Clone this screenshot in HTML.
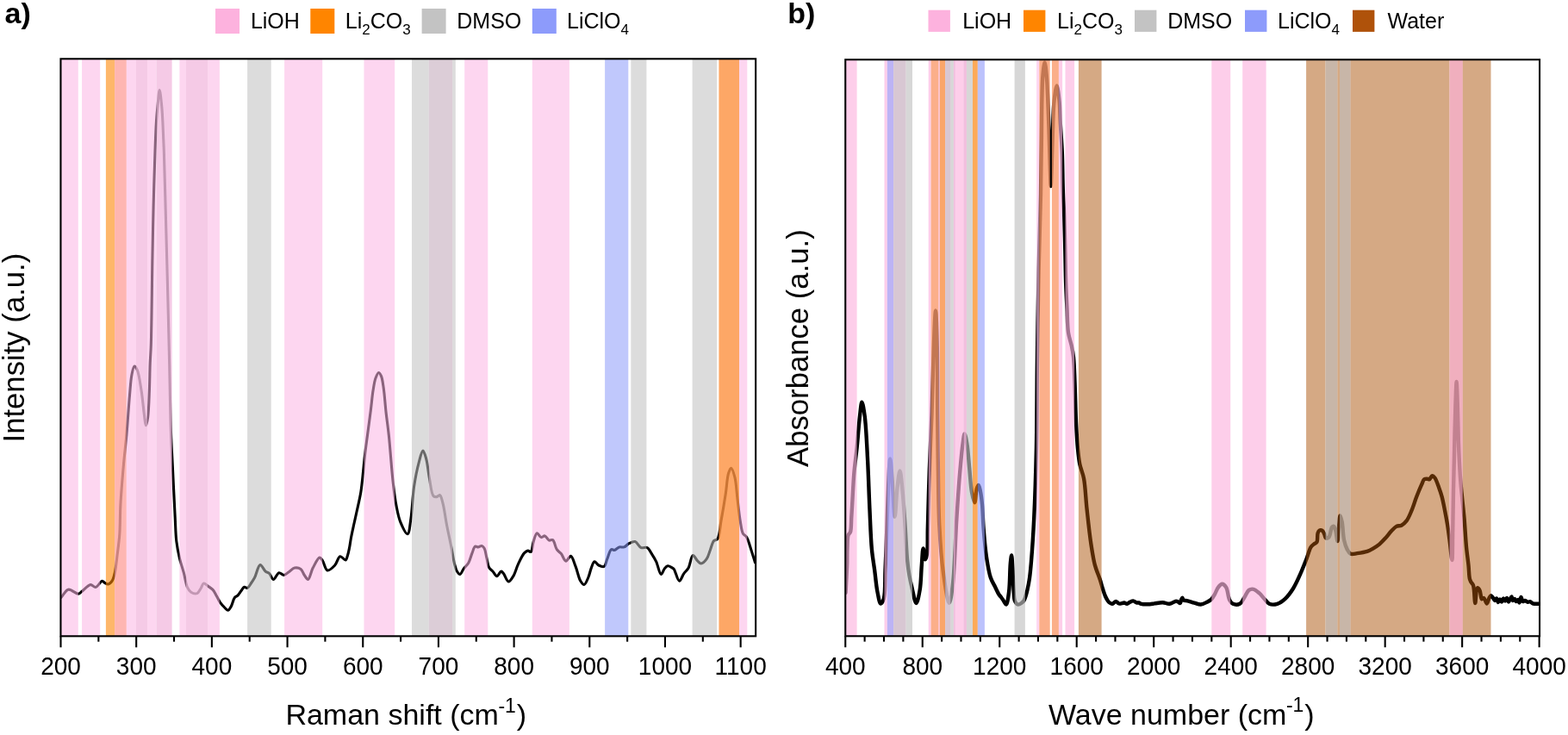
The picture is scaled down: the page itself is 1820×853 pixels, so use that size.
<!DOCTYPE html>
<html><head><meta charset="utf-8"><title>Raman and FTIR spectra</title>
<style>
html,body{margin:0;padding:0;background:#fff;}
body{width:1820px;height:853px;overflow:hidden;}
svg{display:block;}
text{font-family:'Liberation Sans', Arial, Helvetica, sans-serif;fill:#000;}
</style></head><body>
<svg width="1820" height="853" viewBox="0 0 1820 853">
<defs>
<clipPath id="cl"><rect x="70.45" y="68.3" width="806.7" height="670"/></clipPath>
<clipPath id="cr"><rect x="981.25" y="69.2" width="805.8" height="669.05"/></clipPath>
</defs>
<rect width="1820" height="853" fill="#fff"/>

<!-- panel a -->
<text x="5.6" y="26.6" font-size="34" font-weight="bold">a)</text>
<g font-size="25">
<rect x="250" y="10" width="28" height="29" fill="#fdb2de"/>
<text x="290.9" y="33">LiOH</text>
<rect x="360.3" y="10" width="28" height="29" fill="#ff8500"/>
<text x="400.8" y="33">Li<tspan font-size="17" dy="7">2</tspan><tspan dy="-7">CO</tspan><tspan font-size="17" dy="7">3</tspan></text>
<rect x="489.6" y="10" width="28" height="29" fill="#c3c3c3"/>
<text x="530.3" y="33">DMSO</text>
<rect x="617.8" y="10" width="28" height="29" fill="#8d9bfb"/>
<text x="658" y="33">LiClO<tspan font-size="17" dy="7">4</tspan></text>
</g>
<g clip-path="url(#cl)">
<path d="M71.1,693.3 C73.83,690.27 76.02,684.93 79.3,684.2 C82.66,683.46 88.25,689.53 91.1,689.2 C92.9,688.99 93.55,687.44 95.2,686.2 C97.79,684.26 102.14,678.89 105.1,678.6 C107.25,678.39 109.02,681.8 111,681.5 C113.5,681.12 116.62,674.45 118.6,674.3 C119.75,674.21 120.42,675.71 121.5,676.3 C122.72,676.96 124.25,678.22 125.6,678 C127.2,677.74 129.08,675.76 130.3,673.9 C131.84,671.55 132.44,668.3 133.3,664.5 C134.57,658.91 135.3,650.62 136.2,643.4 C137.14,635.81 138.19,628.56 138.8,620 C139.54,609.65 139.23,597.95 139.9,585.6 C140.68,571.17 142.22,553.21 143.5,538.7 C144.61,526.12 145.9,515.95 147,503.5 C148.25,489.45 149.37,471.14 150.5,458.6 C151.32,449.53 151.66,441.36 152.9,435.2 C153.73,431.06 154.67,425.24 156,425 C156.95,424.83 158.31,427.13 159.3,429.3 C161.37,433.87 162.68,444.51 164,452.8 C165.47,461.98 166.47,474.44 167.5,482 C168.16,486.82 168.57,493.77 169.3,493.8 C169.96,493.83 170.99,488.49 171.6,484.4 C172.71,477 172.97,463.27 173.4,452.8 C173.83,442.47 173.84,431.4 174.2,422 C174.5,414.05 174.97,409.99 175.3,400 C176,378.72 176.38,329.1 176.9,300 C177.31,277.46 177.6,260.4 178.1,240 C178.62,218.77 179.35,193.03 180,175 C180.46,162.15 180.8,151.49 181.4,142 C181.86,134.79 182.36,129.29 183,123 C183.63,116.79 184.42,104.51 185.2,104.5 C185.98,104.49 187.08,116.78 187.7,123 C188.32,129.28 188.52,134.8 188.9,142 C189.4,151.49 189.85,162.15 190.3,175 C190.93,193.03 191.49,217.21 192.1,240 C192.78,265.28 193.49,291.85 194.2,320 C194.99,351.48 195.87,388.52 196.6,420 C197.25,448.15 197.6,476.88 198.4,500 C199.01,517.71 199.83,530.78 200.6,546.9 C201.42,564.05 202.41,585.09 203.2,600 C203.77,610.85 203.78,619.59 204.8,628.1 C205.66,635.28 206.92,641.52 208.4,647.8 C209.79,653.69 211.78,659.05 213.3,664.7 C214.81,670.32 215.61,677.61 217.5,681.6 C218.7,684.13 219.84,686.03 221.7,687.2 C223.59,688.39 226.91,689.33 228.8,688.6 C230.66,687.89 231.71,684.93 233,683 C234.28,681.09 235.02,677.46 236.5,677.1 C237.86,676.77 239.74,679.05 241.4,680.2 C243.23,681.46 245.39,682.64 247,684.4 C248.74,686.31 249.91,688.98 251.3,691.4 C252.75,693.91 253.84,696.83 255.5,699.2 C257.12,701.52 259.39,703.87 261.1,705.5 C262.35,706.69 263.49,708.41 264.6,708.3 C265.83,708.18 267.01,705.93 268.1,704.1 C269.68,701.46 270.67,695.65 272.4,693.5 C273.46,692.19 274.73,692.23 275.9,691.1 C277.53,689.52 279.35,686.18 280.8,684.4 C281.83,683.14 282.5,681.61 283.6,681.3 C284.62,681.01 285.96,682.67 287.1,682.3 C288.79,681.75 290.54,678.08 292,676 C293.34,674.09 294.33,672.7 295.6,670.3 C297.56,666.6 299.57,655.94 302,655.6 C303.92,655.33 306.24,661.65 308.3,663.3 C309.72,664.43 311.18,664.26 312.5,665.4 C314.29,666.95 315.6,672.43 317.4,672.5 C319.34,672.58 321.53,665.18 323.8,664.7 C325.58,664.32 327.56,667.59 329.4,667.5 C331.29,667.41 333.05,665.29 335,664 C337.22,662.53 339.54,659.62 342,659.1 C344.26,658.62 347.24,659.19 349.1,660.5 C351.07,661.89 351.81,665.41 353.3,667.5 C354.63,669.37 356.15,672.7 357.5,672.5 C359.51,672.2 360.95,663.35 363.2,659.1 C365.43,654.89 368.7,647.34 370.9,647.1 C372.19,646.96 373.23,648.97 374.4,650.6 C376.26,653.2 377.46,661.21 380,661.9 C382.29,662.52 386.11,658.81 388.5,656.3 C391.13,653.54 392.38,646.24 394.8,645.7 C396.7,645.28 399.63,650.42 401.1,650 C402.4,649.63 402.81,646.57 403.5,644.5 C404.33,642.01 404.88,639.09 405.5,636 C406.23,632.35 406.68,628.31 407.5,624 C408.46,618.93 409.87,612.72 411,607.5 C412.03,602.77 412.9,599.08 414,594 C415.43,587.41 417.54,579.03 418.8,571.3 C420.09,563.37 420.78,554.61 421.6,547 C422.32,540.28 422.74,534.63 423.5,528 C424.34,520.69 425.44,513.09 426.5,505 C427.69,495.96 429.16,485.39 430.3,476.3 C431.33,468.08 431.99,459.6 433.1,452.8 C433.96,447.51 434.64,442.47 436,438.8 C436.97,436.2 438.31,432.58 439.5,432.5 C440.49,432.43 441.67,434.62 442.5,436.5 C443.93,439.73 444.48,445.4 445.3,451 C446.41,458.59 447,469.01 448,478 C449,487.01 450.17,494.38 451.3,505 C452.91,520.21 454.56,545.51 456.3,560.6 C457.5,571.01 458.44,578.92 460,586.9 C461.33,593.7 462.37,599.96 464.7,605.6 C466.85,610.8 471.08,620.03 473.1,619.7 C475.23,619.35 475.8,608.96 476.9,601.9 C478.48,591.74 478.86,575.96 480.6,564.4 C482.12,554.32 484.23,543.86 486.3,536.3 C487.75,531.02 489.39,523.14 490.9,523.1 C492.18,523.07 493.61,528.62 494.7,532.5 C496.33,538.32 496.97,547.69 498.4,555 C499.78,562.04 500.58,572.99 503.1,575.6 C504.19,576.73 505.67,576.73 506.9,576.6 C508.17,576.46 509.56,574.29 510.6,574.7 C512.2,575.33 512.94,580.09 514,584 C515.69,590.26 516.86,600.49 518.5,609 C520.22,617.91 522.48,628.1 524.1,636.3 C525.43,643 526.32,649.71 527.6,654.6 C528.48,657.97 529.11,660.91 530.4,663 C531.37,664.56 532.75,666.61 533.9,666.5 C535.32,666.36 536.54,662.32 538.1,660.2 C539.81,657.89 542.22,655.96 543.8,653.2 C545.63,650.01 546.6,645.28 548,641.9 C549.17,639.07 549.95,634.99 551.5,634.2 C552.51,633.68 553.79,634.98 555,634.9 C556.35,634.82 558,633.23 559.2,633.5 C560.35,633.76 561.29,634.89 562.1,636.3 C563.47,638.68 563.97,643.76 564.9,647.5 C565.84,651.26 566.17,656.09 567.7,658.8 C568.79,660.74 570.47,661.47 571.9,663 C573.5,664.71 575.15,668.59 576.8,668.6 C578.45,668.61 580.35,663.04 581.8,663 C582.85,662.97 583.59,664.52 584.6,665.8 C586.26,667.92 588.21,674.83 590.2,675 C591.97,675.15 594.12,671.32 595.8,668.6 C598.04,664.97 599.36,659.09 601.5,654.6 C603.6,650.2 606.14,644.47 608.5,641.9 C609.89,640.39 611.33,639.24 612.7,639.1 C613.89,638.98 615.26,640.98 616.2,640.5 C617.85,639.66 617.81,632.86 619,629.2 C620.18,625.59 621.5,619.06 623.3,618.7 C624.71,618.42 626.51,623.26 628.2,623.6 C629.56,623.88 631.04,621.6 632.4,621.9 C634.1,622.27 635.55,626.46 637.3,627.1 C638.66,627.6 640.35,625.87 641.6,626.6 C643.68,627.81 644.38,634.88 646.3,637.7 C647.76,639.85 649.69,640.64 651.3,642.6 C653.24,644.96 654.91,650.91 656.9,651.1 C658.67,651.27 660.82,645.11 662.5,645.4 C664.67,645.77 666.34,653 668.1,657.4 C670.14,662.5 671.57,670.7 673.8,674.3 C675.09,676.38 676.66,678.68 678,678.5 C679.73,678.27 681.54,673.11 682.9,670 C684.39,666.6 685.07,662.05 686.4,658.8 C687.49,656.14 688.48,652.1 690,651.8 C691.37,651.53 693.03,655.07 694.9,656 C696.77,656.93 699.61,658.23 701.2,657.4 C703.1,656.41 703.42,651.92 704.7,648.9 C706.18,645.42 707.61,638.75 709.6,637.7 C710.69,637.13 711.92,638.64 713.2,638.4 C714.92,638.08 716.85,635.46 718.8,634.9 C720.6,634.38 722.62,635.49 724.4,634.9 C726.41,634.24 728.01,631.76 730.1,630.7 C732.23,629.62 734.92,627.96 737.1,628.5 C739.64,629.13 741.51,634.52 744.1,635.6 C746.28,636.51 749.18,634.57 751.2,635.6 C753.54,636.79 755.06,640.62 756.8,643.3 C758.57,646.02 760.14,648.51 761.7,651.8 C763.68,655.97 765.37,666.32 767.3,666.5 C768.7,666.63 770.08,661.22 771.6,659.5 C772.72,658.23 773.78,656.88 775.1,656.7 C776.55,656.5 778.72,658.07 780,658.8 C780.91,659.32 781.42,659.45 782.2,660.4 C784.04,662.64 786.36,673.96 788.5,674.1 C790.24,674.21 791.95,668.17 793.8,665.6 C795.47,663.28 797.46,662.01 799,659.3 C801.14,655.54 802.15,644.88 804.3,644.5 C805.86,644.23 807.83,649.23 809.6,650.9 C811,652.22 812.27,654.04 813.8,654 C815.73,653.95 818.5,651.04 820.2,648.7 C822.19,645.97 823,641.71 824.4,638.2 C825.8,634.68 826.72,629.65 828.6,627.6 C829.8,626.29 831.64,627.02 832.8,625.5 C835.29,622.24 835.58,612.15 837,604.4 C838.73,594.94 840.81,582.54 842.3,572.8 C843.57,564.45 843.9,554.73 845.5,549.5 C846.37,546.64 847.53,543.16 848.6,543.2 C849.97,543.25 851.76,549.42 852.9,553.8 C854.6,560.34 854.95,570.67 856,579.1 C857.05,587.53 857.95,597.11 859.2,604.4 C860.16,610.01 860.61,615.93 862.4,619.2 C863.52,621.25 865.32,621.38 866.6,623.4 C868.68,626.69 870.24,633.25 871.9,638.2 C873.54,643.12 874.97,648.07 876.5,653" fill="none" stroke="#000" stroke-width="3.1" stroke-linejoin="round" stroke-linecap="round"/>
<rect x="69.5" y="68.3" width="21.3" height="670" fill="rgb(251,180,228)" fill-opacity="0.55"/>
<rect x="95.05" y="68.3" width="21.15" height="670" fill="rgb(251,180,228)" fill-opacity="0.55"/>
<rect x="122.9" y="68.3" width="10.2" height="670" fill="rgb(253,135,7)" fill-opacity="0.6"/>
<rect x="133.1" y="68.3" width="13.7" height="670" fill="rgb(254,164,159)" fill-opacity="0.8"/>
<rect x="146.8" y="68.3" width="11.1" height="670" fill="rgb(251,180,228)" fill-opacity="0.55"/>
<rect x="157.9" y="68.3" width="13.3" height="670" fill="rgb(242,189,224)" fill-opacity="0.8"/>
<rect x="171.2" y="68.3" width="10.3" height="670" fill="rgb(251,180,228)" fill-opacity="0.55"/>
<rect x="181.5" y="68.3" width="18.1" height="670" fill="rgb(242,189,224)" fill-opacity="0.8"/>
<rect x="208.4" y="68.3" width="7.5" height="670" fill="rgb(251,180,228)" fill-opacity="0.55"/>
<rect x="215.9" y="68.3" width="25.4" height="670" fill="rgb(242,189,224)" fill-opacity="0.8"/>
<rect x="241.3" y="68.3" width="13.6" height="670" fill="rgb(251,180,228)" fill-opacity="0.55"/>
<rect x="287.1" y="68.3" width="27.6" height="670" fill="rgb(191,191,191)" fill-opacity="0.55"/>
<rect x="330.1" y="68.3" width="44.1" height="670" fill="rgb(251,180,228)" fill-opacity="0.55"/>
<rect x="422.5" y="68.3" width="35.7" height="670" fill="rgb(251,180,228)" fill-opacity="0.55"/>
<rect x="478" y="68.3" width="19.7" height="670" fill="rgb(191,191,191)" fill-opacity="0.55"/>
<rect x="497.7" y="68.3" width="27.5" height="670" fill="rgb(211,192,205)" fill-opacity="0.8"/>
<rect x="525.2" y="68.3" width="3.6" height="670" fill="rgb(191,191,191)" fill-opacity="0.55"/>
<rect x="539.2" y="68.3" width="27.1" height="670" fill="rgb(251,180,228)" fill-opacity="0.55"/>
<rect x="617.8" y="68.3" width="43.1" height="670" fill="rgb(251,180,228)" fill-opacity="0.55"/>
<rect x="702.1" y="68.3" width="27.2" height="670" fill="rgb(140,155,250)" fill-opacity="0.55"/>
<rect x="732.3" y="68.3" width="18.1" height="670" fill="rgb(191,191,191)" fill-opacity="0.55"/>
<rect x="803.6" y="68.3" width="28.6" height="670" fill="rgb(191,191,191)" fill-opacity="0.55"/>
<rect x="834.4" y="68.3" width="23.6" height="670" fill="rgb(252,145,64)" fill-opacity="0.8"/>
<rect x="858" y="68.3" width="9.3" height="670" fill="rgb(251,180,228)" fill-opacity="0.55"/>
</g>
<rect x="70.45" y="68.3" width="806.7" height="670" fill="none" stroke="#000" stroke-width="2.1"/>
<g stroke="#000" stroke-width="2.1">
<line x1="70.5" y1="738.3" x2="70.5" y2="751.3"/>
<line x1="158.19" y1="738.3" x2="158.19" y2="751.3"/>
<line x1="245.87" y1="738.3" x2="245.87" y2="751.3"/>
<line x1="333.56" y1="738.3" x2="333.56" y2="751.3"/>
<line x1="421.24" y1="738.3" x2="421.24" y2="751.3"/>
<line x1="508.93" y1="738.3" x2="508.93" y2="751.3"/>
<line x1="596.61" y1="738.3" x2="596.61" y2="751.3"/>
<line x1="684.29" y1="738.3" x2="684.29" y2="751.3"/>
<line x1="771.98" y1="738.3" x2="771.98" y2="751.3"/>
<line x1="859.66" y1="738.3" x2="859.66" y2="751.3"/>
<line x1="114.34" y1="738.3" x2="114.34" y2="744.7"/>
<line x1="202.03" y1="738.3" x2="202.03" y2="744.7"/>
<line x1="289.71" y1="738.3" x2="289.71" y2="744.7"/>
<line x1="377.4" y1="738.3" x2="377.4" y2="744.7"/>
<line x1="465.08" y1="738.3" x2="465.08" y2="744.7"/>
<line x1="552.77" y1="738.3" x2="552.77" y2="744.7"/>
<line x1="640.45" y1="738.3" x2="640.45" y2="744.7"/>
<line x1="728.14" y1="738.3" x2="728.14" y2="744.7"/>
<line x1="815.82" y1="738.3" x2="815.82" y2="744.7"/>
</g>
<g font-size="28" text-anchor="middle">
<text transform="translate(70.5,782.9) scale(1,1.05)">200</text>
<text transform="translate(158.19,782.9) scale(1,1.05)">300</text>
<text transform="translate(245.87,782.9) scale(1,1.05)">400</text>
<text transform="translate(333.56,782.9) scale(1,1.05)">500</text>
<text transform="translate(421.24,782.9) scale(1,1.05)">600</text>
<text transform="translate(508.93,782.9) scale(1,1.05)">700</text>
<text transform="translate(596.61,782.9) scale(1,1.05)">800</text>
<text transform="translate(684.29,782.9) scale(1,1.05)">900</text>
<text transform="translate(771.98,782.9) scale(1,1.05)">1000</text>
<text transform="translate(859.66,782.9) scale(1,1.05)">1100</text>
</g>
<text x="471.3" y="841.4" font-size="34" text-anchor="middle">Raman shift (cm<tspan font-size="23" dy="-14.5" dx="-0.5">-1</tspan><tspan dy="14.5" dx="1">)</tspan></text>
<text transform="translate(28.0,403.6) rotate(-90)" font-size="34.7" text-anchor="middle">Intensity (a.u.)</text>

<!-- panel b -->
<text x="914.3" y="26.6" font-size="34" font-weight="bold">b)</text>
<g font-size="25">
<rect x="1077.5" y="11.7" width="25.4" height="25.2" fill="#fdb2de"/>
<text x="1117.2" y="33">LiOH</text>
<rect x="1188" y="11.7" width="25.4" height="25.2" fill="#ff8500"/>
<text x="1227" y="33">Li<tspan font-size="17" dy="7">2</tspan><tspan dy="-7">CO</tspan><tspan font-size="17" dy="7">3</tspan></text>
<rect x="1317" y="11.7" width="25.4" height="25.2" fill="#c3c3c3"/>
<text x="1355.2" y="33">DMSO</text>
<rect x="1445" y="11.7" width="25.4" height="25.2" fill="#8d9bfb"/>
<text x="1483" y="33">LiClO<tspan font-size="17" dy="7">4</tspan></text>
<rect x="1570" y="11.7" width="25.4" height="25.2" fill="#af520a"/>
<text x="1610.5" y="33">Water</text>
</g>
<g clip-path="url(#cr)">
<path d="M981.6,688 C981.87,682.67 982.14,677.41 982.4,672 C982.67,666.42 983.02,660.83 983.2,655 C983.39,648.84 983.23,641.96 983.5,636 C983.74,630.7 983.49,624.17 984.6,621 C985.19,619.32 986.39,619.23 987,617.5 C988.23,613.99 987.92,605.61 988.3,600 C988.65,594.81 988.83,591.1 989.2,585 C989.77,575.48 990.41,559.93 991.4,548.4 C992.29,538.02 993.65,529.23 994.7,518.9 C995.86,507.48 996.84,492.41 998,482.8 C998.77,476.38 999.45,466.83 1000.4,466.8 C1001.35,466.77 1002.77,475.97 1003.7,482.8 C1005.31,494.67 1006.07,514.92 1007,532 C1008,550.53 1008.54,571.64 1009.4,590 C1010.18,606.6 1010.67,624.19 1011.9,637.4 C1012.79,646.95 1014.12,653.8 1015.2,662 C1016.28,670.2 1017,679.6 1018.4,686.6 C1019.47,691.93 1020.64,700.27 1022.2,700.5 C1023.26,700.66 1024.89,697.65 1025.8,694.8 C1027.8,688.5 1026.98,673.54 1027.5,662 C1028.09,649.1 1028.62,634.22 1029.1,621 C1029.55,608.61 1029.72,598.13 1030.3,585 C1031,569.14 1032.11,532.52 1033.2,532.5 C1033.92,532.48 1034.74,546.36 1035.5,555.2 C1036.56,567.55 1037.54,599.69 1038.6,599.7 C1039.51,599.71 1040.26,576.52 1041.4,566.9 C1042.3,559.28 1043.52,546.49 1044.5,546.5 C1045.48,546.51 1046.43,558.69 1047.3,566.9 C1048.61,579.29 1049.79,599.09 1050.8,613.7 C1051.69,626.56 1052.12,640.01 1053.1,650 C1053.79,657.06 1054.53,662.39 1055.5,668 C1056.36,672.98 1057.29,677.06 1058.5,682 C1059.89,687.64 1061.91,700.01 1063.5,700 C1064.97,700 1066.67,690.49 1067.7,684.5 C1069.06,676.55 1069.09,664.87 1069.8,656.3 C1070.39,649.12 1070.79,636.54 1071.6,636.5 C1072.26,636.47 1073.12,649.25 1074,649.3 C1074.66,649.33 1075.6,645.46 1076.1,642.3 C1077.09,636.09 1076.49,625.55 1076.8,614.1 C1077.28,596.25 1078.01,568.18 1078.8,545.6 C1079.58,523.49 1080.68,502.95 1081.5,480 C1082.4,454.66 1082.99,422.01 1083.9,400 C1084.54,384.53 1085.37,360.5 1086,360.5 C1086.63,360.5 1087.32,384.53 1087.7,400 C1088.24,422.01 1087.99,454.66 1088.2,480 C1088.39,502.95 1088.55,523.84 1088.9,545.6 C1089.25,567.17 1089.23,589.58 1090.3,610 C1091.27,628.57 1092.49,647.1 1094.7,663.1 C1096.55,676.49 1099.76,699.71 1101.8,699.7 C1103.4,699.69 1104.82,686.92 1106,677.2 C1108.13,659.68 1108.85,625.62 1110.3,603 C1111.52,583.93 1112.66,566.09 1114,550.3 C1115.1,537.38 1116.3,523.64 1117.5,515.1 C1118.19,510.17 1118.79,503.52 1119.6,503.5 C1120.42,503.48 1121.6,510.35 1122.4,515.1 C1123.64,522.41 1124.27,533.91 1125.2,543.3 C1126.13,552.68 1126.63,564.06 1128,571.4 C1128.91,576.25 1130.39,583.36 1131.3,583.3 C1132.35,583.24 1132.57,570.77 1133.7,567.2 C1134.31,565.28 1135.16,562.94 1135.8,563 C1136.6,563.07 1137.29,567.18 1137.9,570 C1138.79,574.11 1139.43,579.52 1140,585.4 C1140.76,593.23 1140.84,603.34 1141.6,612.9 C1142.43,623.36 1143.39,635.59 1144.9,645.7 C1146.22,654.52 1147.64,663.89 1149.8,670.3 C1151.29,674.72 1153.3,677.56 1155,681 C1156.59,684.22 1158.29,688.18 1159.7,690.3 C1160.52,691.53 1161.21,691.96 1162,693 C1162.97,694.29 1164,696.04 1165,697.5 C1165.97,698.91 1167.06,701.77 1167.9,701.6 C1169.35,701.3 1170.31,692.74 1171.1,686.8 C1172.27,678.03 1172.08,661.53 1172.8,653.9 C1173.19,649.81 1173.71,644.49 1174.1,644.5 C1174.56,644.51 1174.95,652.76 1175.3,658 C1175.79,665.25 1175.93,676.75 1176.5,684 C1176.91,689.24 1176.71,694.45 1178,697.5 C1178.8,699.39 1179.99,701.14 1181.3,701.5 C1182.52,701.84 1184.29,700.77 1185.5,700 C1186.68,699.25 1187.69,698.23 1188.5,697 C1189.41,695.62 1189.88,693.88 1190.5,692 C1191.27,689.67 1191.93,687 1192.6,684 C1193.45,680.2 1194.31,675.79 1195,671 C1195.84,665.15 1196.33,659.44 1197,651.4 C1198.06,638.61 1199.29,620.25 1200.2,601.6 C1201.36,577.75 1202.28,548.59 1202.9,520 C1203.58,488.36 1203.46,453.82 1203.9,420 C1204.35,385.18 1204.87,347.79 1205.6,314 C1206.27,283.04 1207.44,252.34 1208,225 C1208.48,201.64 1208.65,179.68 1208.9,160 C1209.1,143.63 1209.08,128.09 1209.4,115 C1209.64,104.86 1209.71,95.74 1210.4,88 C1210.93,82.11 1211.87,72.5 1212.6,72.5 C1213.33,72.5 1214.25,82.37 1214.8,88 C1215.46,94.68 1215.61,101.58 1216,110 C1216.52,121.35 1217.02,135.92 1217.5,150 C1218.03,165.74 1218.56,187.96 1219,200 C1219.25,206.81 1219.45,216 1219.7,216 C1219.95,216 1220.23,206.81 1220.5,200 C1220.98,187.96 1221.41,164.94 1222,150 C1222.48,137.86 1222.56,126.24 1223.6,117 C1224.36,110.22 1225.71,99.49 1226.7,99.5 C1227.71,99.51 1228.95,111.55 1229.6,118 C1230.31,125 1230.17,131.72 1230.6,140 C1231.16,150.74 1232.27,164.2 1232.8,177 C1233.37,190.79 1233.34,206.96 1233.8,220 C1234.18,230.9 1234.8,239.28 1235.2,250 C1235.66,262.37 1235.97,276.67 1236.3,290 C1236.63,303.33 1236.78,317.85 1237.2,330 C1237.55,340.17 1238.03,348.67 1238.5,358 C1238.97,367.33 1238.82,378.11 1240,386 C1240.88,391.91 1242.78,396.38 1243.8,401.3 C1244.74,405.82 1245.43,409.17 1246,414.4 C1246.84,422.08 1247.05,432.29 1247.5,443 C1248.08,456.73 1248.34,476.09 1249,490 C1249.53,501.12 1250.06,511.19 1250.9,520 C1251.57,526.98 1252.07,532.71 1253.3,538.7 C1254.47,544.42 1256.74,548.61 1258,555.2 C1259.8,564.65 1260.19,578.24 1261.5,590.3 C1262.9,603.16 1264.43,618.29 1266.2,630.1 C1267.63,639.65 1268.89,648.34 1270.9,655.9 C1272.54,662.06 1275.06,667.28 1276.7,672.3 C1278.07,676.51 1279.06,680.48 1280.2,684 C1281.15,686.93 1281.94,689.62 1283,692 C1283.91,694.05 1285,696.17 1286,697.5 C1286.67,698.39 1287.21,698.96 1288,699.5 C1288.83,700.07 1290.03,700.86 1290.9,700.8 C1291.67,700.75 1292.3,699.97 1293,699.5 C1293.73,699.01 1294.38,697.9 1295.2,697.9 C1296.25,697.9 1297.56,700.16 1298.8,700.5 C1299.87,700.79 1301.06,700.38 1302.1,700.2 C1303.05,700.03 1303.86,699.44 1304.8,699.5 C1305.85,699.56 1307.02,700.89 1308.1,700.8 C1309.22,700.7 1310.22,699.36 1311.4,698.8 C1312.62,698.22 1313.98,697.33 1315.3,697.4 C1316.71,697.48 1318.36,699.21 1319.6,699.5 C1320.46,699.7 1321.12,699.32 1321.9,699.5 C1322.79,699.7 1323.38,700.49 1324.6,700.8 C1326.83,701.36 1331.69,701.35 1334.5,701.2 C1336.61,701.09 1337.91,700.68 1340,700.4 C1342.76,700.03 1346.59,699.08 1349.6,699.2 C1352.32,699.31 1354.77,701.03 1357.3,700.8 C1359.9,700.57 1363.13,697.77 1365,697.7 C1366.05,697.66 1366.71,698.12 1367.5,698.5 C1368.31,698.89 1369.2,700.21 1369.8,700 C1370.59,699.73 1370.76,696.62 1371.3,695.5 C1371.65,694.77 1372.03,693.78 1372.4,693.8 C1372.86,693.82 1372.98,695.91 1373.8,696.5 C1374.82,697.24 1376.75,696.89 1378.5,697.3 C1380.77,697.83 1383.63,698.9 1386.2,699.6 C1388.73,700.29 1391.28,701.66 1393.8,701.5 C1396.38,701.34 1399.3,699.64 1401.5,698.5 C1403.32,697.56 1404.83,696.77 1406.2,695.4 C1407.71,693.88 1408.78,691.73 1410,689.6 C1411.39,687.18 1412.37,683.65 1414,681.6 C1415.33,679.92 1417.07,677.8 1418.6,677.8 C1420.13,677.8 1421.94,679.64 1423.2,681.6 C1425.2,684.72 1425.31,692.83 1427.1,696.2 C1428.24,698.34 1429.31,699.98 1431.1,700.8 C1433.14,701.73 1436.84,701.9 1439,700.8 C1441.31,699.62 1442.58,696.07 1444.3,693.5 C1446.12,690.78 1447.47,686.4 1449.6,684.9 C1451.14,683.81 1453.04,683.46 1454.8,683.8 C1456.95,684.21 1459.31,686.39 1461.4,688.2 C1463.73,690.21 1465.89,693.29 1468,695.5 C1469.84,697.43 1471.06,699.87 1473.3,700.8 C1475.78,701.83 1479.55,701.67 1482.5,700.8 C1485.74,699.85 1488.91,697.44 1491.8,694.8 C1495.16,691.73 1498.24,687.38 1501,683 C1504,678.23 1506.37,672.69 1508.9,667.1 C1511.62,661.07 1514.47,653.76 1516.7,648 C1518.52,643.3 1519.6,637.93 1521.4,635.1 C1522.48,633.4 1523.68,632.61 1524.9,631.6 C1526.03,630.67 1527.59,630.55 1528.4,629.2 C1529.68,627.07 1528.8,621.11 1529.6,618.7 C1530.06,617.3 1530.51,616.06 1531.4,615.6 C1532.28,615.14 1533.96,615.31 1534.9,615.9 C1535.96,616.57 1536.53,618.41 1537.2,619.8 C1537.91,621.27 1537.99,624.01 1539,624.5 C1539.87,624.92 1541.52,624.39 1542.5,623.4 C1544.28,621.61 1544.55,613.65 1546,611.9 C1546.64,611.12 1547.5,610.59 1548.1,610.8 C1548.96,611.1 1549.5,613.3 1550.1,615.2 C1551.08,618.31 1551.85,628.03 1552.5,628 C1553.28,627.96 1553.61,614.68 1554.2,609.3 C1554.65,605.2 1554.93,598.55 1555.6,598.5 C1556.16,598.46 1557.08,602.7 1557.7,605.8 C1558.73,610.98 1558.83,621.14 1560.1,626.9 C1561.02,631.06 1562.1,634.59 1563.6,637.4 C1564.77,639.59 1565.85,641.88 1567.7,642.7 C1569.68,643.58 1572.51,642.48 1575.3,642.1 C1578.79,641.62 1583.65,640.93 1587,639.8 C1589.73,638.88 1591.79,637.64 1594.1,636.3 C1596.49,634.92 1598.86,633.46 1601.1,631.6 C1603.54,629.58 1605.81,627.02 1608.1,624.5 C1610.51,621.84 1612.88,618.4 1615.2,616 C1617.13,614 1618.84,611.94 1620.9,610.9 C1622.71,609.99 1624.88,610.62 1626.7,609.7 C1628.81,608.63 1630.83,606.72 1632.6,604.4 C1634.87,601.42 1636.57,596.99 1638.4,592.7 C1640.51,587.75 1642.26,581.54 1644.3,576.3 C1646.21,571.4 1648.53,565.87 1650.2,562.2 C1651.29,559.79 1651.78,557.29 1653.1,556.3 C1654.07,555.57 1655.55,555.66 1656.6,555.7 C1657.48,555.73 1658.2,556.55 1659,556.3 C1660.18,555.92 1661.33,552.31 1662.5,552.2 C1663.47,552.11 1664.47,553.27 1665.4,554.5 C1667.09,556.72 1668.71,561.99 1670.1,565.7 C1671.43,569.26 1672.53,572.35 1673.6,576.3 C1674.91,581.14 1676.02,587.23 1677.1,592.7 C1678.18,598.16 1679.19,603.42 1680.1,609.1 C1681.07,615.19 1681.85,621.54 1682.7,628.1 C1683.62,635.14 1684.81,650.03 1685.4,650 C1686.11,649.97 1685.96,629.8 1686.2,618 C1686.5,603.4 1686.7,583.72 1687,569 C1687.25,556.92 1687.54,547.24 1687.8,536 C1688.07,524.26 1688.32,511.45 1688.6,500 C1688.86,489.54 1689.05,479.74 1689.4,470 C1689.73,460.76 1690.2,443 1690.6,443 C1691,443 1691.46,460.12 1691.8,470 C1692.22,482.03 1692.4,498.1 1692.8,510 C1693.12,519.6 1693.44,527.42 1693.9,536 C1694.35,544.42 1694.9,553.55 1695.5,561 C1695.99,567.05 1696.5,571.38 1697.1,577.4 C1697.83,584.77 1698.83,593.21 1699.6,602 C1700.49,612.14 1701.07,625.06 1702,634.8 C1702.75,642.64 1703.82,649.46 1704.5,656 C1705.08,661.62 1705.04,668.2 1705.9,671.7 C1706.36,673.56 1706.91,674.52 1707.6,675.8 C1708.28,677.05 1709.34,677.53 1710,679.3 C1711.46,683.23 1711.48,699.99 1712.3,700 C1713.06,700.01 1713.08,682.85 1714.7,682.3 C1715.48,682.04 1716.82,683.79 1717.6,685.2 C1718.83,687.43 1718.61,694.59 1719.9,695.2 C1720.56,695.51 1721.54,693.76 1722.3,694 C1723.57,694.4 1724.76,700.55 1725.8,700.5 C1726.82,700.45 1727.58,695.7 1728.5,694 C1729.15,692.8 1729.77,691.16 1730.5,691.1 C1731.21,691.04 1732.08,692.58 1732.8,693.5 C1733.6,694.52 1734.25,696.96 1735,697 C1735.66,697.04 1736.39,694.42 1737,694.5 C1737.76,694.6 1738.3,698.96 1739,699 C1739.64,699.03 1740.31,695.52 1741,695.5 C1741.65,695.48 1742.37,698.54 1743,698.5 C1743.71,698.46 1744.29,694.54 1745,694.5 C1745.63,694.46 1746.35,697.52 1747,697.5 C1747.69,697.48 1748.36,693.97 1749,694 C1749.7,694.04 1750.3,698.46 1751,698.5 C1751.64,698.53 1752.38,696.07 1753,695 C1753.53,694.09 1754.05,692.45 1754.5,692.5 C1755.08,692.56 1755.29,696.83 1756,697 C1756.54,697.13 1757.37,694.94 1758,695 C1758.71,695.07 1759.29,697.93 1760,698 C1760.63,698.06 1761.44,695.89 1762,696 C1762.65,696.12 1763,699.53 1763.5,699.5 C1764.17,699.46 1764.79,693.03 1765.5,693 C1766.13,692.97 1766.53,697.59 1767.5,698 C1768.18,698.29 1769.12,696.96 1770,697 C1771.03,697.05 1772.23,698.54 1773.3,698.7 C1774.22,698.84 1775.11,698.01 1776,698.2 C1777.04,698.42 1777.77,699.84 1779.1,700.3 C1780.97,700.95 1784.03,700.63 1786.5,700.8" fill="none" stroke="#000" stroke-width="4.4" stroke-linejoin="round" stroke-linecap="round"/>
<rect x="980.5" y="69.2" width="14.1" height="669.05" fill="rgb(252,180,223)" fill-opacity="0.65"/>
<rect x="1026.5" y="69.2" width="3.3" height="669.05" fill="rgb(252,180,223)" fill-opacity="0.65"/>
<rect x="1029.8" y="69.2" width="7.3" height="669.05" fill="rgb(179,168,244)" fill-opacity="0.88"/>
<rect x="1037.1" y="69.2" width="14.5" height="669.05" fill="rgb(211,191,205)" fill-opacity="0.88"/>
<rect x="1051.6" y="69.2" width="7.4" height="669.05" fill="rgb(193,193,193)" fill-opacity="0.65"/>
<rect x="1077.7" y="69.2" width="2.9" height="669.05" fill="rgb(252,180,223)" fill-opacity="0.65"/>
<rect x="1080.6" y="69.2" width="8.4" height="669.05" fill="rgb(250,152,105)" fill-opacity="0.78"/>
<rect x="1089" y="69.2" width="2" height="669.05" fill="rgb(251,169,176)" fill-opacity="0.7"/>
<rect x="1091" y="69.2" width="6.1" height="669.05" fill="rgb(249,144,69)" fill-opacity="0.8"/>
<rect x="1097.1" y="69.2" width="6.6" height="669.05" fill="rgb(211,191,205)" fill-opacity="0.88"/>
<rect x="1103.7" y="69.2" width="3.2" height="669.05" fill="rgb(193,193,193)" fill-opacity="0.65"/>
<rect x="1106.9" y="69.2" width="1.9" height="669.05" fill="rgb(240,181,218)" fill-opacity="0.88"/>
<rect x="1108.8" y="69.2" width="9.5" height="669.05" fill="rgb(252,180,223)" fill-opacity="0.65"/>
<rect x="1118.3" y="69.2" width="3.6" height="669.05" fill="rgb(240,181,218)" fill-opacity="0.88"/>
<rect x="1121.9" y="69.2" width="7.1" height="669.05" fill="rgb(193,193,193)" fill-opacity="0.65"/>
<rect x="1129" y="69.2" width="5.8" height="669.05" fill="rgb(250,124,1)" fill-opacity="0.65"/>
<rect x="1134.8" y="69.2" width="8.1" height="669.05" fill="rgb(152,161,250)" fill-opacity="0.65"/>
<rect x="1177.6" y="69.2" width="12.3" height="669.05" fill="rgb(193,193,193)" fill-opacity="0.65"/>
<rect x="1203.1" y="69.2" width="3.2" height="669.05" fill="rgb(252,192,232)" fill-opacity="0.65"/>
<rect x="1206.3" y="69.2" width="12.4" height="669.05" fill="rgb(250,152,105)" fill-opacity="0.78"/>
<rect x="1220.9" y="69.2" width="8" height="669.05" fill="rgb(250,152,105)" fill-opacity="0.78"/>
<rect x="1228.9" y="69.2" width="4.2" height="669.05" fill="rgb(252,180,223)" fill-opacity="0.65"/>
<rect x="1236.5" y="69.2" width="10.6" height="669.05" fill="rgb(252,180,223)" fill-opacity="0.65"/>
<rect x="1251.9" y="69.2" width="26.7" height="669.05" fill="rgb(171,83,9)" fill-opacity="0.5"/>
<rect x="1406.3" y="69.2" width="21.9" height="669.05" fill="rgb(252,180,223)" fill-opacity="0.65"/>
<rect x="1442.2" y="69.2" width="27.4" height="669.05" fill="rgb(252,180,223)" fill-opacity="0.65"/>
<rect x="1516.1" y="69.2" width="22.4" height="669.05" fill="rgb(171,83,9)" fill-opacity="0.5"/>
<rect x="1538.5" y="69.2" width="13.9" height="669.05" fill="rgb(188,166,149)" fill-opacity="0.82"/>
<rect x="1552.4" y="69.2" width="2.6" height="669.05" fill="rgb(171,83,9)" fill-opacity="0.5"/>
<rect x="1555" y="69.2" width="12.6" height="669.05" fill="rgb(188,166,149)" fill-opacity="0.82"/>
<rect x="1567.6" y="69.2" width="114.9" height="669.05" fill="rgb(171,83,9)" fill-opacity="0.5"/>
<rect x="1682.5" y="69.2" width="15.3" height="669.05" fill="rgb(237,157,176)" fill-opacity="0.82"/>
<rect x="1697.8" y="69.2" width="32.7" height="669.05" fill="rgb(171,83,9)" fill-opacity="0.5"/>
</g>
<rect x="981.25" y="69.2" width="805.8" height="669.05" fill="none" stroke="#000" stroke-width="2.1"/>
<g stroke="#000" stroke-width="2.1">
<line x1="981.25" y1="738.25" x2="981.25" y2="751.25"/>
<line x1="1070.74" y1="738.25" x2="1070.74" y2="751.25"/>
<line x1="1160.23" y1="738.25" x2="1160.23" y2="751.25"/>
<line x1="1249.71" y1="738.25" x2="1249.71" y2="751.25"/>
<line x1="1339.2" y1="738.25" x2="1339.2" y2="751.25"/>
<line x1="1428.69" y1="738.25" x2="1428.69" y2="751.25"/>
<line x1="1518.18" y1="738.25" x2="1518.18" y2="751.25"/>
<line x1="1607.67" y1="738.25" x2="1607.67" y2="751.25"/>
<line x1="1697.15" y1="738.25" x2="1697.15" y2="751.25"/>
<line x1="1786.64" y1="738.25" x2="1786.64" y2="751.25"/>
<line x1="1003.62" y1="738.25" x2="1003.62" y2="744.65"/>
<line x1="1025.99" y1="738.25" x2="1025.99" y2="744.65"/>
<line x1="1048.37" y1="738.25" x2="1048.37" y2="744.65"/>
<line x1="1093.11" y1="738.25" x2="1093.11" y2="744.65"/>
<line x1="1115.48" y1="738.25" x2="1115.48" y2="744.65"/>
<line x1="1137.85" y1="738.25" x2="1137.85" y2="744.65"/>
<line x1="1182.6" y1="738.25" x2="1182.6" y2="744.65"/>
<line x1="1204.97" y1="738.25" x2="1204.97" y2="744.65"/>
<line x1="1227.34" y1="738.25" x2="1227.34" y2="744.65"/>
<line x1="1272.09" y1="738.25" x2="1272.09" y2="744.65"/>
<line x1="1294.46" y1="738.25" x2="1294.46" y2="744.65"/>
<line x1="1316.83" y1="738.25" x2="1316.83" y2="744.65"/>
<line x1="1361.57" y1="738.25" x2="1361.57" y2="744.65"/>
<line x1="1383.95" y1="738.25" x2="1383.95" y2="744.65"/>
<line x1="1406.32" y1="738.25" x2="1406.32" y2="744.65"/>
<line x1="1451.06" y1="738.25" x2="1451.06" y2="744.65"/>
<line x1="1473.43" y1="738.25" x2="1473.43" y2="744.65"/>
<line x1="1495.81" y1="738.25" x2="1495.81" y2="744.65"/>
<line x1="1540.55" y1="738.25" x2="1540.55" y2="744.65"/>
<line x1="1562.92" y1="738.25" x2="1562.92" y2="744.65"/>
<line x1="1585.29" y1="738.25" x2="1585.29" y2="744.65"/>
<line x1="1630.04" y1="738.25" x2="1630.04" y2="744.65"/>
<line x1="1652.41" y1="738.25" x2="1652.41" y2="744.65"/>
<line x1="1674.78" y1="738.25" x2="1674.78" y2="744.65"/>
<line x1="1719.53" y1="738.25" x2="1719.53" y2="744.65"/>
<line x1="1741.9" y1="738.25" x2="1741.9" y2="744.65"/>
<line x1="1764.27" y1="738.25" x2="1764.27" y2="744.65"/>
</g>
<g font-size="28" text-anchor="middle">
<text transform="translate(981.25,782.9) scale(1,1.05)">400</text>
<text transform="translate(1070.74,782.9) scale(1,1.05)">800</text>
<text transform="translate(1160.23,782.9) scale(1,1.05)">1200</text>
<text transform="translate(1249.71,782.9) scale(1,1.05)">1600</text>
<text transform="translate(1339.2,782.9) scale(1,1.05)">2000</text>
<text transform="translate(1428.69,782.9) scale(1,1.05)">2400</text>
<text transform="translate(1518.18,782.9) scale(1,1.05)">2800</text>
<text transform="translate(1607.67,782.9) scale(1,1.05)">3200</text>
<text transform="translate(1697.15,782.9) scale(1,1.05)">3600</text>
<text transform="translate(1786.64,782.9) scale(1,1.05)">4000</text>
</g>
<text x="1371.3" y="840.6" font-size="34" text-anchor="middle">Wave number (cm<tspan font-size="23" dy="-14.5" dx="-0.5">-1</tspan><tspan dy="14.5" dx="1">)</tspan></text>
<text transform="translate(938,404.1) rotate(-90)" font-size="34.7" text-anchor="middle">Absorbance (a.u.)</text>
</svg>
</body></html>
